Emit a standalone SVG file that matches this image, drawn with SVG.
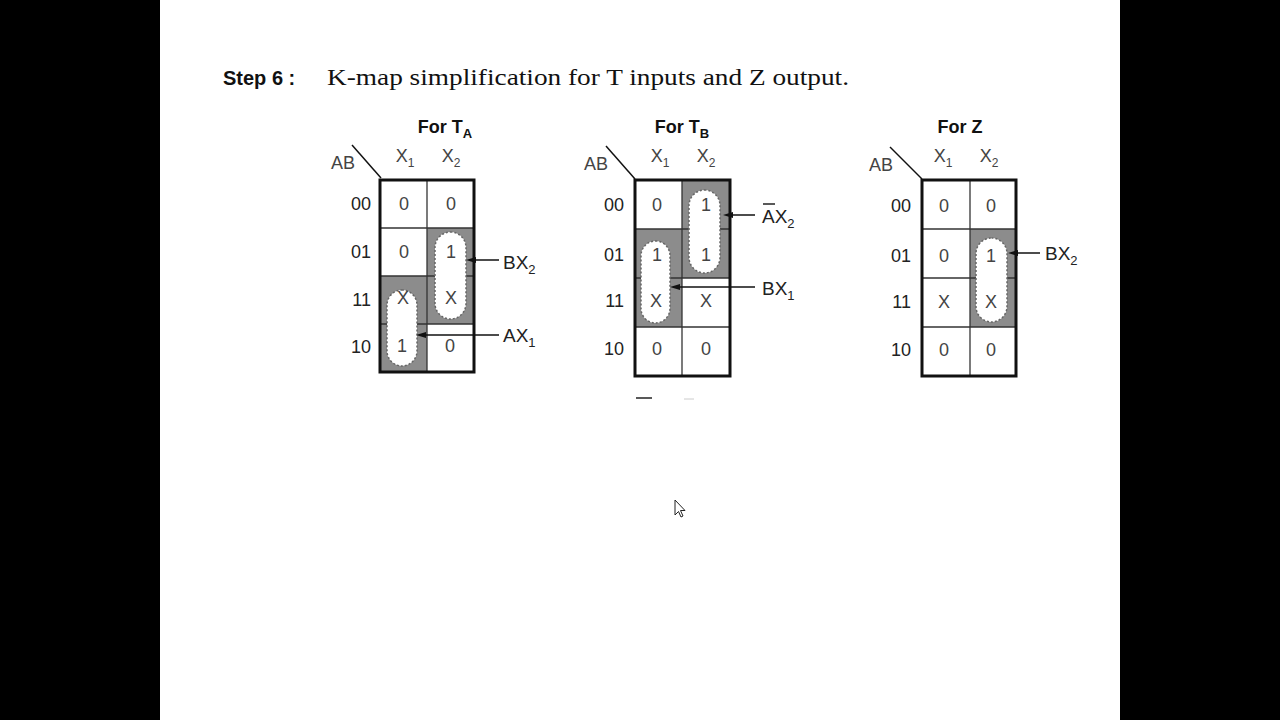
<svg xmlns="http://www.w3.org/2000/svg" width="1280" height="720" viewBox="0 0 1280 720">
<defs>
<marker id="dot" viewBox="0 0 10 10" refX="5" refY="5" markerWidth="7" markerHeight="7" orient="auto">
<path d="M0,2 L10,5 L0,8 Z" fill="#111"/>
</marker>
<style>
.c{font-family:"Liberation Sans",Arial,sans-serif;fill:#444;font-size:18px;text-anchor:middle;}
.r{font-family:"Liberation Sans",Arial,sans-serif;fill:#222;font-size:18px;text-anchor:end;}
.h{font-family:"Liberation Sans",Arial,sans-serif;fill:#111;font-size:18px;font-weight:bold;text-anchor:middle;}
.box{fill:none;stroke:#111;stroke-width:3;}
.grid{stroke:#333;stroke-width:1.3;}
.sh{fill:#8c8c8c;}
.ov{fill:#fff;stroke:#666;stroke-width:1.5;stroke-dasharray:2 2;}
.ld{stroke:#111;stroke-width:1.5;fill:none;marker-end:url(#dot);}
.lb{font-family:"Liberation Sans",Arial,sans-serif;fill:#222;font-size:19px;}
.diag{stroke:#111;stroke-width:1.5;}
</style>
</defs>
<rect x="0" y="0" width="1280" height="720" fill="#000"/>
<rect x="160" y="0" width="960" height="720" fill="#fff"/>
<g id="title">
<text x="223" y="85" font-family="Liberation Sans,Arial,sans-serif" font-weight="bold" font-size="20" fill="#111">Step 6 :</text>
<text x="327" y="85" font-family="Liberation Serif,'Times New Roman',serif" font-size="23" fill="#111" textLength="522" lengthAdjust="spacingAndGlyphs">K-map simplification for T inputs and Z output.</text>
</g>
<g id="kmap-TA">
<text x="445" y="133" class="h">For T<tspan font-size="13" dy="5">A</tspan></text>
<text x="405" y="162" class="c">X<tspan font-size="12" dy="5">1</tspan></text>
<text x="451" y="162" class="c">X<tspan font-size="12" dy="5">2</tspan></text>
<text x="343" y="169" class="c">AB</text>
<line x1="352" y1="145" x2="381" y2="178" class="diag"/>
<rect x="427" y="228" width="47" height="96" class="sh"/>
<rect x="380" y="276" width="47" height="96" class="sh"/>
<line x1="427" y1="180" x2="427" y2="372" class="grid"/>
<line x1="380" y1="228" x2="474" y2="228" class="grid"/>
<line x1="380" y1="276" x2="474" y2="276" class="grid"/>
<line x1="380" y1="324" x2="474" y2="324" class="grid"/>
<rect x="380" y="180" width="94" height="192" class="box"/>
<rect x="435" y="232" width="31" height="87" rx="15.5" class="ov"/>
<rect x="387" y="290" width="30" height="76" rx="15" class="ov"/>
<text x="371" y="210" class="r">00</text><text x="371" y="258" class="r">01</text><text x="371" y="306" class="r">11</text><text x="371" y="353" class="r">10</text>
<text x="404" y="210" class="c">0</text><text x="451" y="210" class="c">0</text>
<text x="404" y="258" class="c">0</text><text x="451" y="258" class="c">1</text>
<text x="403" y="304" class="c">X</text><text x="451" y="304" class="c">X</text>
<text x="402" y="352" class="c">1</text><text x="450" y="352" class="c">0</text>
</g>
<g id="kmap-TB">
<text x="682" y="133" class="h">For T<tspan font-size="13" dy="5">B</tspan></text>
<text x="660" y="162" class="c">X<tspan font-size="12" dy="5">1</tspan></text>
<text x="706" y="162" class="c">X<tspan font-size="12" dy="5">2</tspan></text>
<text x="596" y="170" class="c">AB</text>
<line x1="606" y1="146" x2="635" y2="179" class="diag"/>
<rect x="682" y="180" width="48" height="98" class="sh"/>
<rect x="635" y="229" width="47" height="98" class="sh"/>
<line x1="682" y1="180" x2="682" y2="376" class="grid"/>
<line x1="635" y1="229" x2="730" y2="229" class="grid"/>
<line x1="635" y1="278" x2="730" y2="278" class="grid"/>
<line x1="635" y1="327" x2="730" y2="327" class="grid"/>
<rect x="635" y="180" width="95" height="196" class="box"/>
<rect x="689" y="190" width="31" height="83" rx="15.5" class="ov"/>
<rect x="641" y="241" width="29" height="82" rx="14.5" class="ov"/>
<text x="624" y="211" class="r">00</text><text x="624" y="261" class="r">01</text><text x="624" y="307" class="r">11</text><text x="624" y="355" class="r">10</text>
<text x="657" y="211" class="c">0</text><text x="706" y="211" class="c">1</text>
<text x="657" y="261" class="c">1</text><text x="706" y="261" class="c">1</text>
<text x="656" y="307" class="c">X</text><text x="706" y="307" class="c">X</text>
<text x="657" y="355" class="c">0</text><text x="706" y="355" class="c">0</text>
</g>
<g id="kmap-Z">
<text x="960" y="133" class="h">For Z</text>
<text x="943" y="162" class="c">X<tspan font-size="12" dy="5">1</tspan></text>
<text x="989" y="162" class="c">X<tspan font-size="12" dy="5">2</tspan></text>
<text x="881" y="171" class="c">AB</text>
<line x1="890" y1="147" x2="922" y2="179" class="diag"/>
<rect x="970" y="229" width="46" height="98" class="sh"/>
<line x1="970" y1="180" x2="970" y2="376" class="grid"/>
<line x1="922" y1="229" x2="1016" y2="229" class="grid"/>
<line x1="922" y1="278" x2="1016" y2="278" class="grid"/>
<line x1="922" y1="327" x2="1016" y2="327" class="grid"/>
<rect x="922" y="180" width="94" height="196" class="box"/>
<rect x="976" y="238" width="31" height="84" rx="15.5" class="ov"/>
<text x="911" y="212" class="r">00</text><text x="911" y="262" class="r">01</text><text x="911" y="308" class="r">11</text><text x="911" y="356" class="r">10</text>
<text x="944" y="212" class="c">0</text><text x="991" y="212" class="c">0</text>
<text x="944" y="262" class="c">0</text><text x="991" y="262" class="c">1</text>
<text x="944" y="308" class="c">X</text><text x="991" y="308" class="c">X</text>
<text x="944" y="356" class="c">0</text><text x="991" y="356" class="c">0</text>
</g>
<g id="connectors">
<line x1="499" y1="260" x2="471" y2="260" class="ld"/>
<line x1="499" y1="335" x2="421" y2="335" class="ld"/>
<line x1="755" y1="215" x2="728" y2="215" class="ld"/>
<line x1="755" y1="287" x2="675" y2="287" class="ld"/>
<line x1="1040" y1="253" x2="1013" y2="253" class="ld"/>
</g>
<g id="labels">
<text x="503" y="269" class="lb">BX<tspan font-size="13" dy="5">2</tspan></text>
<text x="503" y="342" class="lb">AX<tspan font-size="13" dy="5">1</tspan></text>
<text x="762" y="223" class="lb">AX<tspan font-size="13" dy="5">2</tspan></text>
<line x1="763" y1="204" x2="775" y2="204" stroke="#222" stroke-width="1.5"/>
<text x="762" y="295" class="lb">BX<tspan font-size="13" dy="5">1</tspan></text>
<text x="1045" y="260" class="lb">BX<tspan font-size="13" dy="5">2</tspan></text>
</g>
<g id="fragments">
<line x1="636" y1="398" x2="652" y2="398" stroke="#222" stroke-width="1.5"/>
<line x1="684" y1="399" x2="694" y2="399" stroke="#ccc" stroke-width="1"/>
</g>
<g id="cursor">
<path d="M675,500 L675,515 L678.5,511.5 L681,517 L683,516 L680.5,510.5 L685,510.5 Z" fill="#fff" stroke="#222" stroke-width="1"/>
</g>
</svg>
